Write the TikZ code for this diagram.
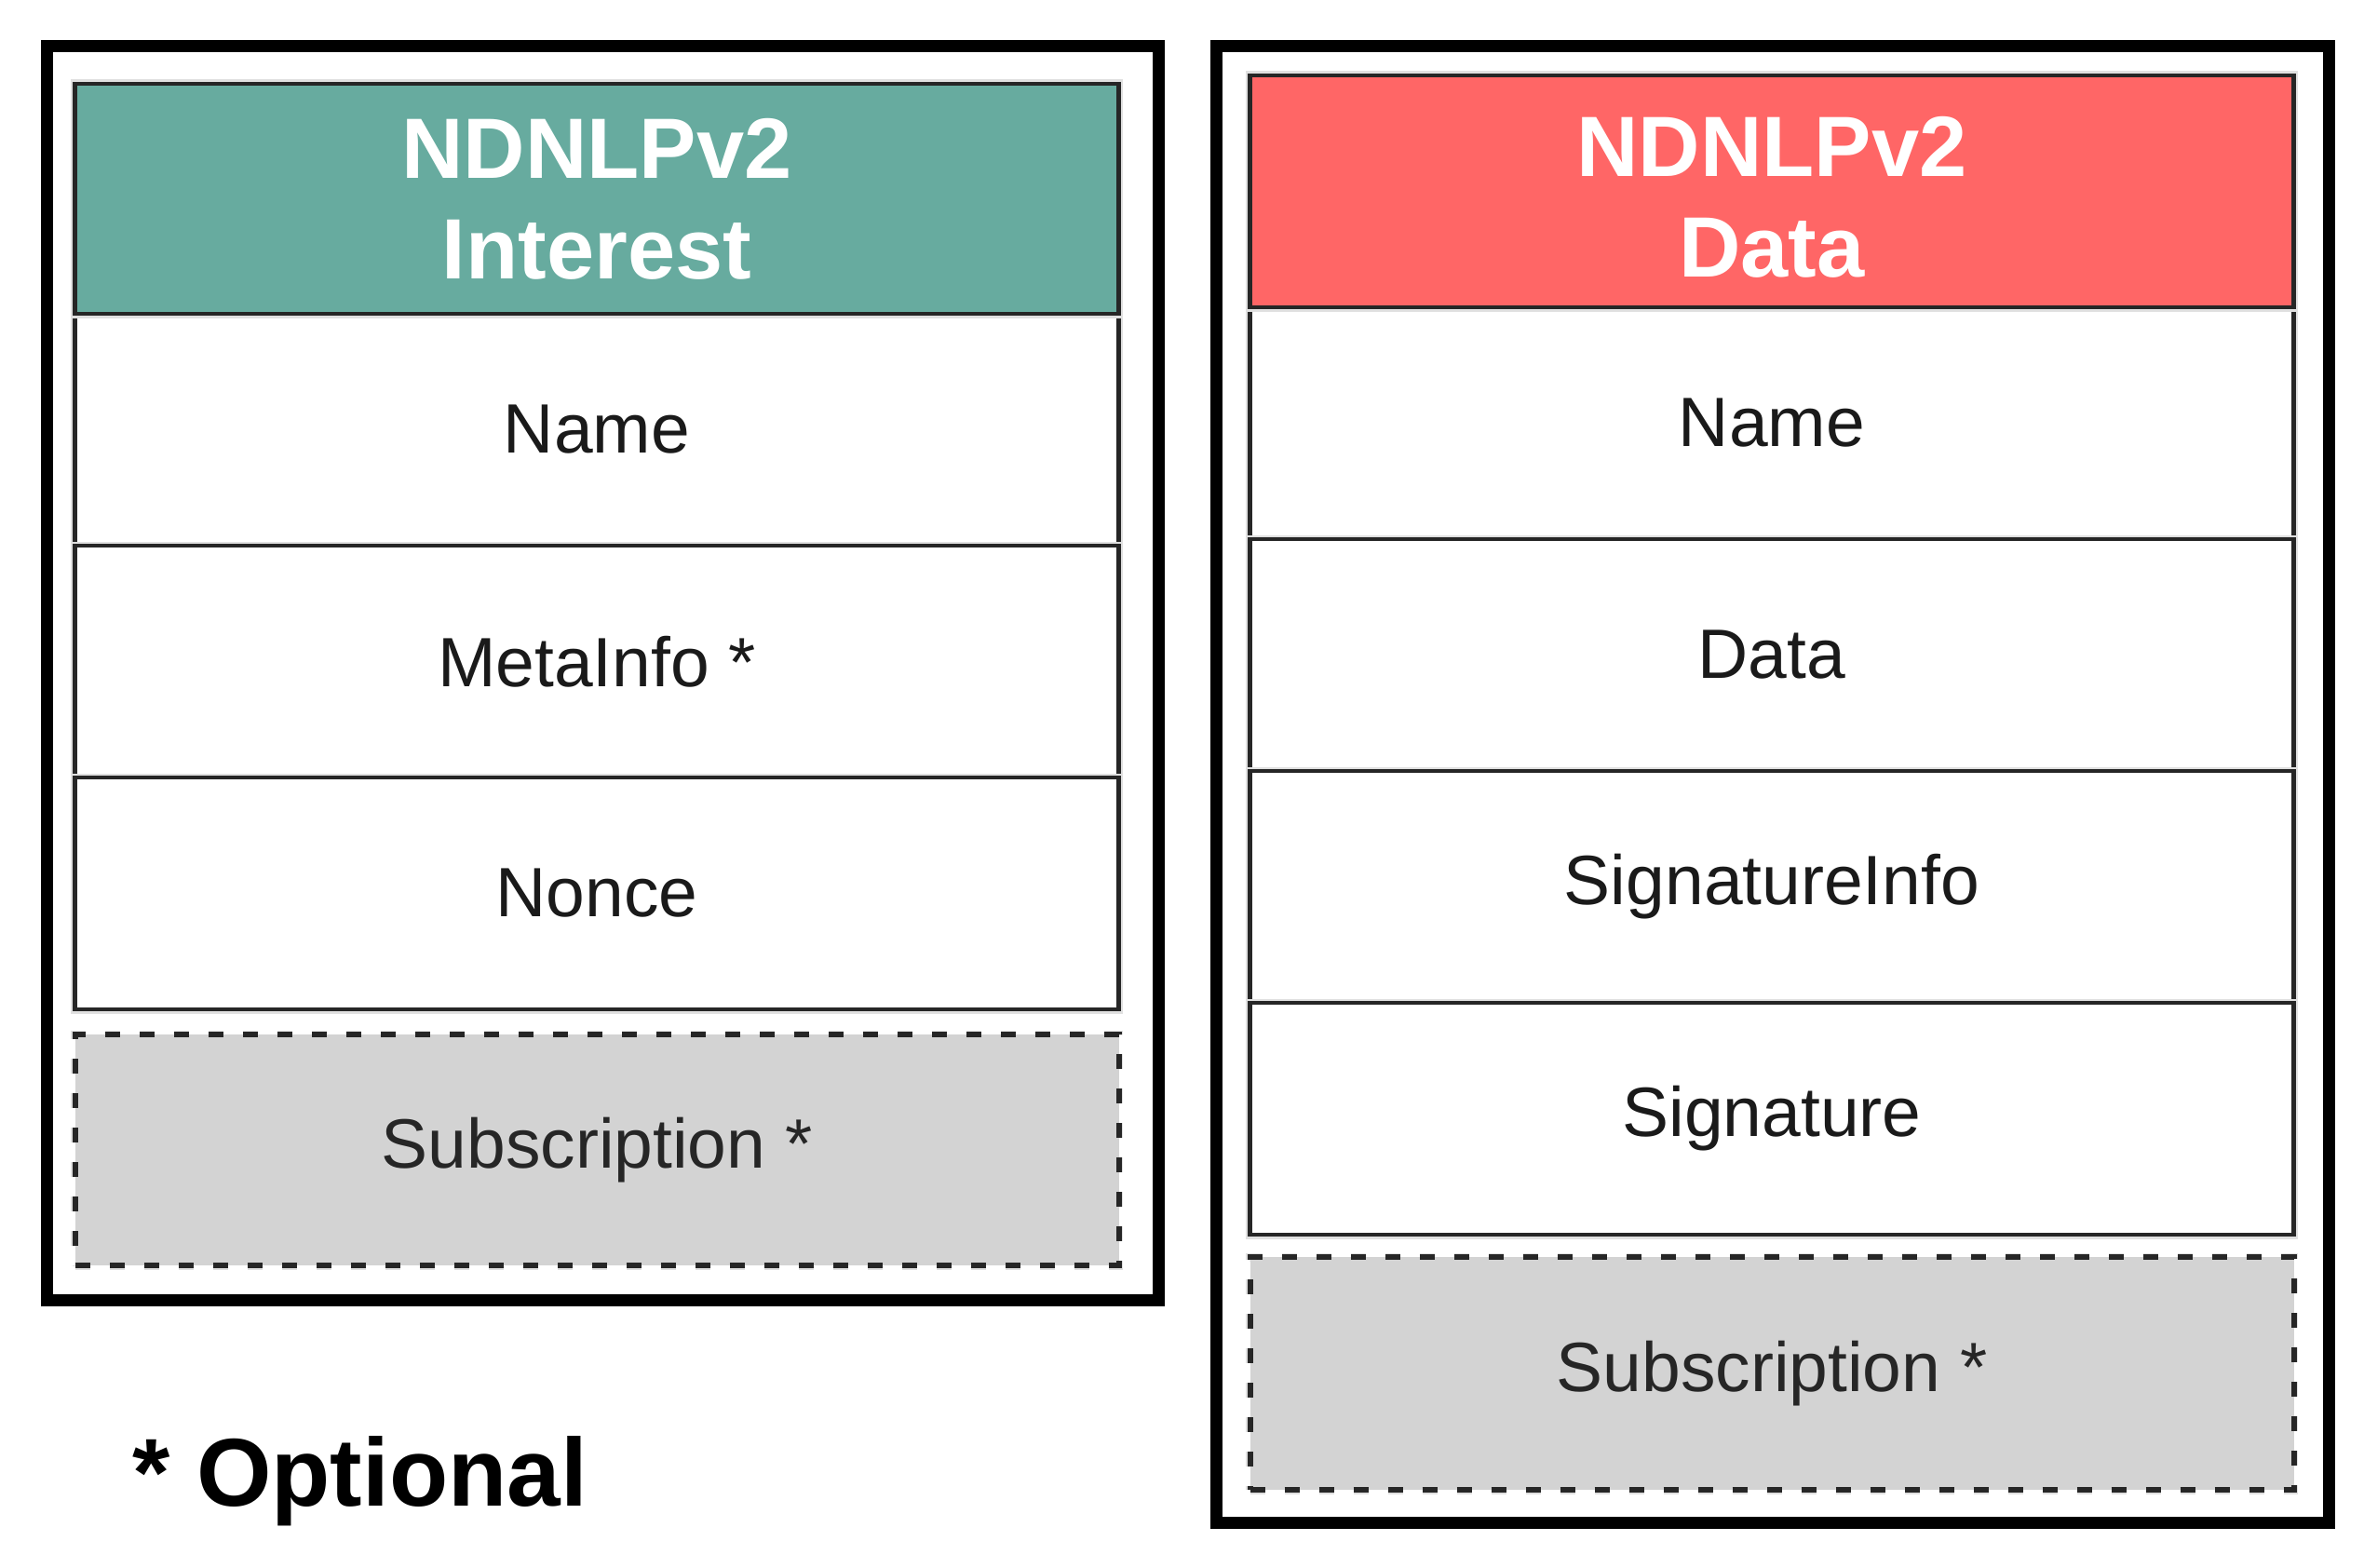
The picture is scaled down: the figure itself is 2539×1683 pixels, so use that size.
\documentclass[tikz,border=0pt]{standalone}
\usepackage{fontspec}
\setmainfont{Liberation Sans}
\definecolor{hdrteal}{HTML}{67AB9F}
\definecolor{hdrred}{HTML}{FF6666}
\definecolor{optgray}{HTML}{D3D3D3}
\definecolor{fieldline}{HTML}{262626}
\definecolor{bodytext}{HTML}{1A1A1A}
\tikzset{
  outerframe/.style={draw=black, line width=13pt, inner sep=0pt, outer sep=0pt},
  fieldbox/.style={draw=fieldline, line width=4.5pt, fill=white, inner sep=0pt,
    minimum width=1121pt, minimum height=249pt,
    preaction={draw=black!12, line width=9pt},
    font=\fontsize{75}{90}\selectfont, text=bodytext},
  hdrbox/.style={fieldbox, font=\fontsize{92}{108}\selectfont\bfseries, text=white, align=center},
  hdrtext/.style={inner sep=0pt, font=\fontsize{92}{108}\selectfont\bfseries, text=white, align=center},
  optbox/.style={fieldbox, fill=optgray, dash pattern=on 16pt off 21pt, line width=6pt, text=fieldline}
}
\begin{document}
\begin{tikzpicture}[x=1pt,y=-1pt]
\useasboundingbox[fill=white] (0,0) rectangle (2539,1683);
% outer frames
\node[outerframe, minimum width=1194pt, minimum height=1346pt] (lframe) at (647,723) {};
\node[outerframe, minimum width=1195pt, minimum height=1585pt] (rframe) at (1903.5,842.5) {};
% left column: Interest
\node[fieldbox] (lname) at (641,461.5) {Name};
\node[fieldbox] (lmeta) at (641,710.5) {MetaInfo *};
\node[fieldbox] (lnonce) at (641,959.5) {Nonce};
\node[hdrbox, fill=hdrteal, minimum height=247pt] (lhdr) at (641,213.5) {NDNLPv2\\Interest};
\node[optbox, minimum height=248pt] (lsub) at (641,1235) {Subscription *};
% right column: Data
\node[fieldbox] (rname) at (1903,454.5) {Name};
\node[fieldbox] (rdata) at (1903,703.5) {Data};
\node[fieldbox] (rsiginfo) at (1903,952.5) {SignatureInfo};
\node[fieldbox] (rsig) at (1903,1201.5) {Signature};
\node[hdrbox, fill=hdrred, minimum height=249pt] (rhdr) at (1903,205.5) {};
\node[hdrtext] (rhdrtext) at ([yshift=-6pt]rhdr.center) {NDNLPv2\\Data};
\node[optbox, minimum height=250pt] (rsub) at (1903,1475) {Subscription *};
% legend
\node[anchor=base west, inner sep=0pt, font=\fontsize{103.5}{120}\selectfont\bfseries] (legend) at (142,1617) {* Optional};
\end{tikzpicture}
\end{document}
